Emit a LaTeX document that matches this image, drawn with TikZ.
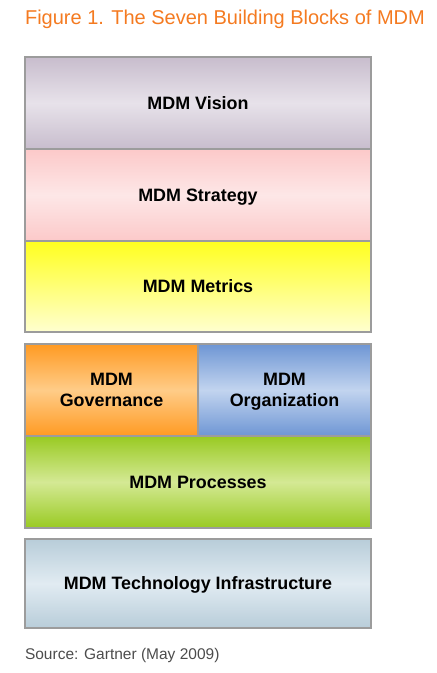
\documentclass[tikz,border=0pt]{standalone}
\usepackage{fontspec}
\setmainfont{Liberation Sans}
\usepackage{tikz}
\usetikzlibrary{positioning}
\usepackage{xcolor}
\definecolor{titleorange}{HTML}{F47A20}
\definecolor{edgegray}{HTML}{9C9C9C}
\definecolor{visiondark}{HTML}{C8BDCD}
\definecolor{visionlight}{HTML}{E7E2EA}
\definecolor{strategydark}{HTML}{FCC9C9}
\definecolor{strategylight}{HTML}{FDE7E7}
\definecolor{metricstop}{HTML}{FFFF1E}
\definecolor{metricsbottom}{HTML}{FFFFD0}
\definecolor{govdark}{HTML}{FF9A22}
\definecolor{govlight}{HTML}{FFCC88}
\definecolor{orgdark}{HTML}{6E96D4}
\definecolor{orglight}{HTML}{C2D4EF}
\definecolor{procdark}{HTML}{99CA22}
\definecolor{proclight}{HTML}{D4E994}
\definecolor{techdark}{HTML}{B8CDD9}
\definecolor{techlight}{HTML}{E1EBF2}

\begin{document}
\begin{tikzpicture}[x=1pt,y=-1pt,
  block/.style={draw=edgegray,line width=1.5pt,outer sep=0pt,inner sep=0pt,
    minimum width=346pt,minimum height=92pt,align=center,text depth=0pt,
    font=\fontsize{17.9}{21.5}\selectfont\bfseries},
  half/.style={block,minimum width=173pt}]
  \useasboundingbox (0,0) rectangle (437,673);
  \node[anchor=west,text=titleorange,font=\fontsize{20}{24}\selectfont] (title) at (21.5,19) {Figure 1. The Seven Building Blocks of MDM};
  \node[block,anchor=north west,top color=visiondark,bottom color=visiondark,middle color=visionlight] (vision) at (25,57) {MDM Vision};
  \node[block,below=0pt of vision,top color=strategydark,bottom color=strategydark,middle color=strategylight] (strategy) {MDM Strategy};
  \node[block,below=0pt of strategy,minimum height=91pt,top color=metricstop,bottom color=metricsbottom] (metrics) {MDM Metrics};
  \node[half,anchor=north west,top color=govdark,bottom color=govdark,middle color=govlight] (gov) at (25,344) {MDM\\Governance};
  \node[half,right=0pt of gov,top color=orgdark,bottom color=orgdark,middle color=orglight] (org) {MDM\\Organization};
  \node[block,below=0pt of gov.south west,anchor=north west,top color=procdark,bottom color=procdark,middle color=proclight] (proc) {MDM Processes};
  \node[block,anchor=north west,minimum height=89pt,top color=techdark,bottom color=techdark,middle color=techlight] (tech) at (25,539) {MDM Technology Infrastructure};
  \node[anchor=west,text=black!70,font=\fontsize{15.5}{18}\selectfont] (source) at (21.5,655) {Source: Gartner (May 2009)};
\end{tikzpicture}
\end{document}
